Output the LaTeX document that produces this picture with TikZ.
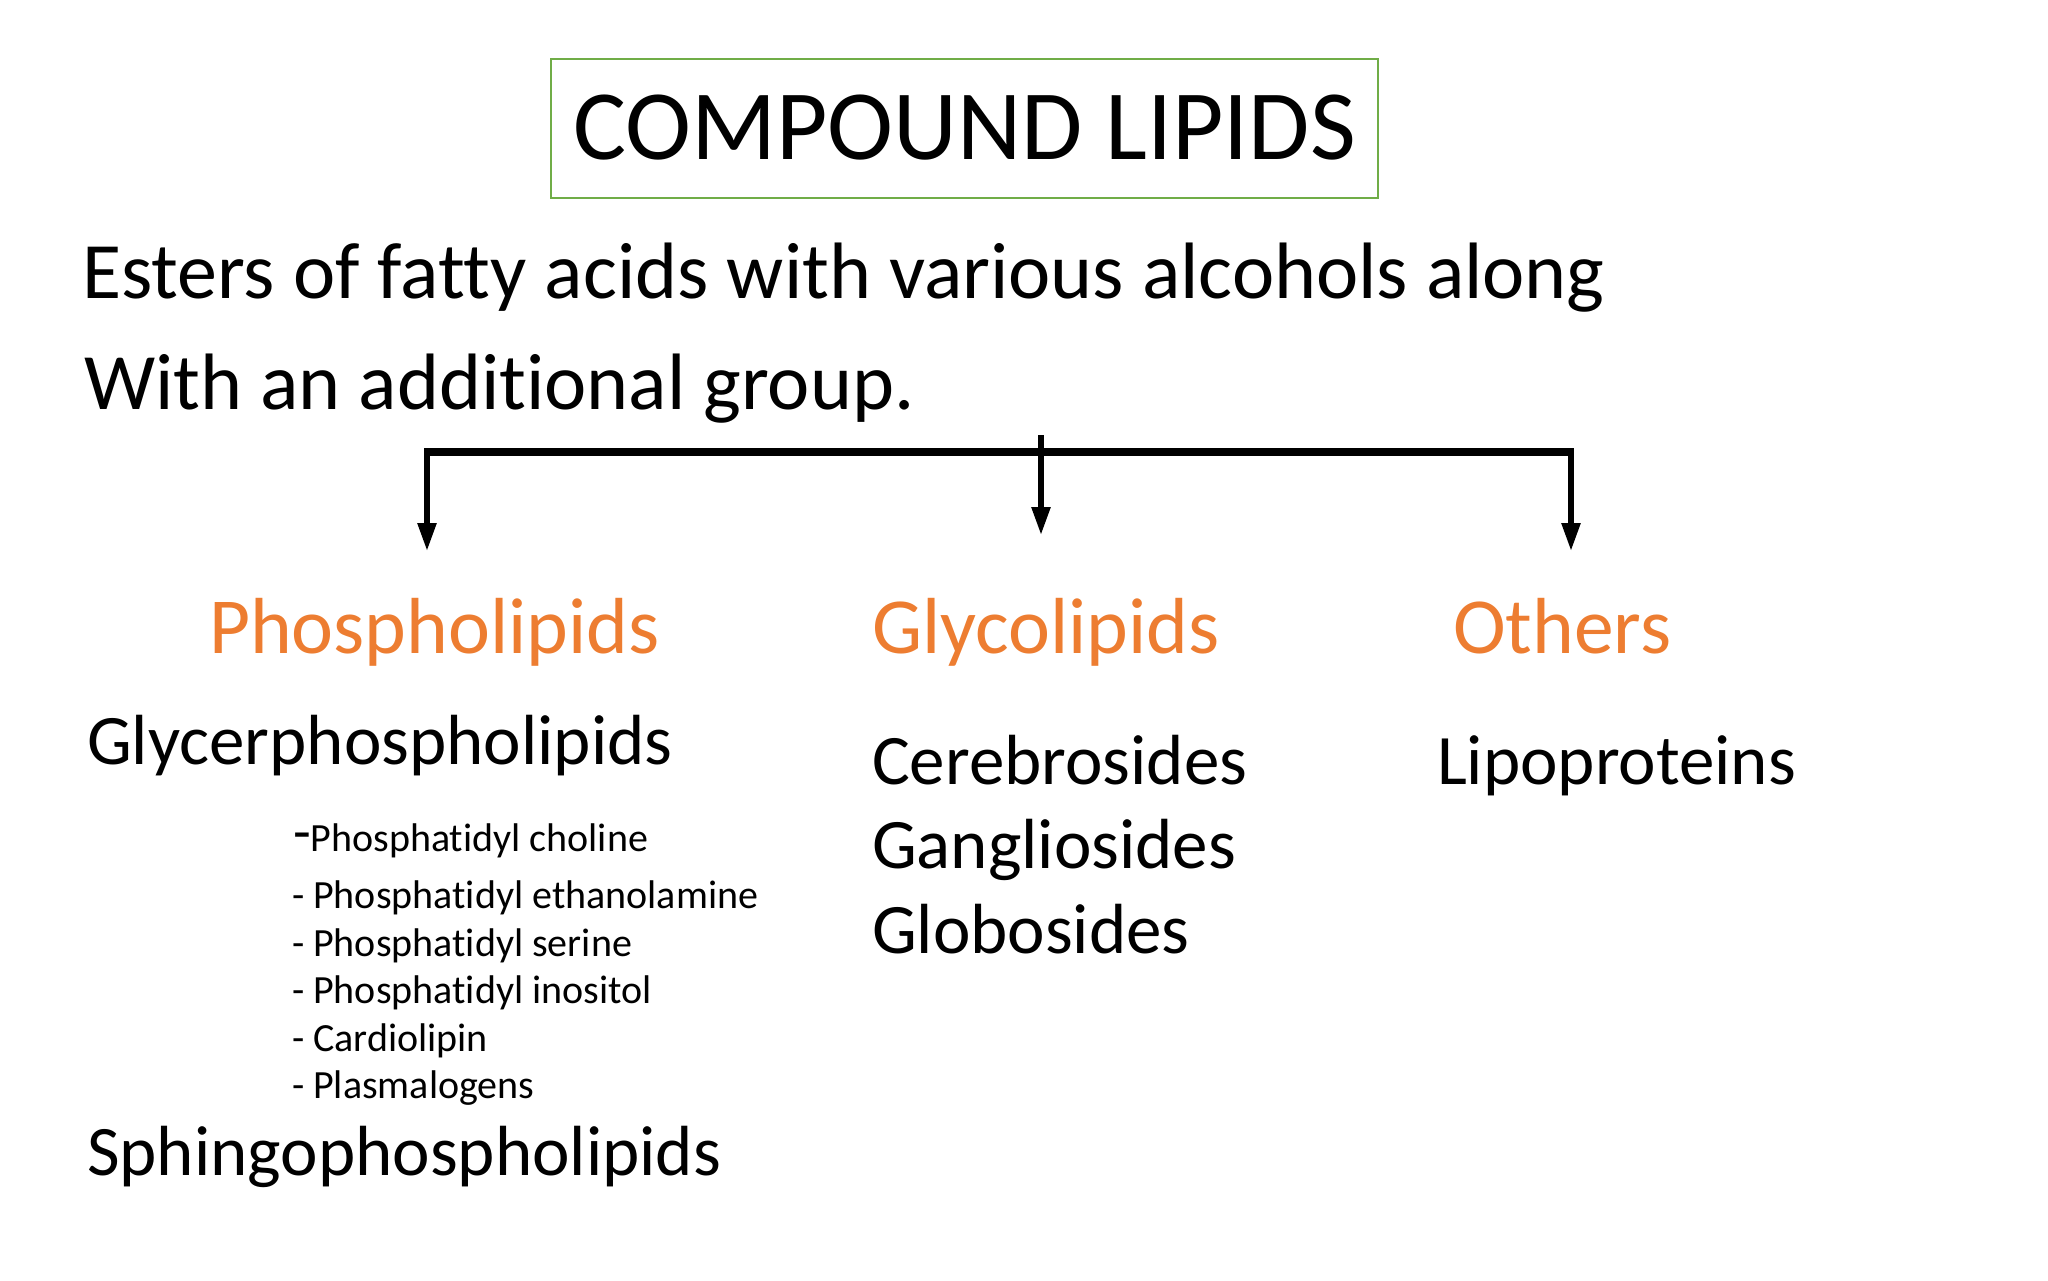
\documentclass[tikz,border=0pt]{standalone}
\usepackage{fontspec}
\setmainfont[RawFeature={-liga;-clig;-calt;-rlig;-dlig}]{Carlito}
\usetikzlibrary{arrows.meta, positioning}
\definecolor{boxgreen}{RGB}{112,173,71}
\definecolor{headorange}{RGB}{237,125,49}

\begin{document}
\begin{tikzpicture}[
        x=1pt, y=-1pt,
        >={Triangle[length=28pt, width=18pt]},
        every node/.style={inner sep=0pt, outer sep=0pt, anchor=base west},
        titlebox/.style={draw=boxgreen, line width=2pt, anchor=center, minimum width=827pt, minimum height=139pt, font=\fontsize{99.5}{104}\selectfont},
        big/.style={font=\fontsize{80}{88}\selectfont},
        head/.style={font=\fontsize{79.5}{86}\selectfont, text=headorange},
        item/.style={font=\fontsize{71}{78}\selectfont},
        sub/.style={font=\fontsize{40}{46}\selectfont},
        bar/.style={line width=8pt},
        link/.style={line width=5.5pt, ->}
    ]
        \useasboundingbox (0,0) rectangle (2048,1280);

        % 标题与说明
        \node[titlebox] (title) at (964.5,128) {COMPOUND LIPIDS};
        \path
            (82,298)  node[big] (desc1) {Esters of fatty acids with various alcohols along}
            (84,409)  node[big] (desc2) {With an additional group.};

        % 分叉箭头
        \coordinate (stem) at (1041,435);
        \coordinate (barL) at (427,452);
        \coordinate (barR) at (1574,452);
        \coordinate (tipL) at (427,551);
        \coordinate (tipM) at (1041,535);
        \coordinate (tipR) at (1571,551);
        \draw[bar] ([xshift=-2.75pt]barL) -- (barR);
        \draw[link] (barL) -- (tipL);
        \draw[link] (stem) -- (tipM);
        \draw[link] ([xshift=-3pt]barR) -- (tipR);

        % 三类
        \path
            (209,653)  node[head] (phos)  {Phospholipids}
            (872,653)  node[head] (glyco) {Glycolipids}
            (1453,653) node[head] (other) {Others};

        % 各类成员
        \path
            (87,764)   node[item] (glycer) {Glycerphospholipids}
            (87,1175)  node[item] (sphingo) {Sphingophospholipids}
            (872,784)  node[item] (cere)   {Cerebrosides}
            (872,868)  node[item] (gang)   {Gangliosides}
            (872,953)  node[item] (globo)  {Globosides}
            (1437,784) node[item] (lipo)   {Lipoproteins};

        % 甘油磷脂
        \path
            (293,851)  node[sub] (pc)   {{\fontsize{58}{58}\selectfont -}Phosphatidyl choline}
            (292,908)  node[sub] (pe)   {- Phosphatidyl ethanolamine}
            (292,956)  node[sub] (ps)   {- Phosphatidyl serine}
            (292,1003) node[sub] (pi)   {- Phosphatidyl inositol}
            (292,1051) node[sub] (card) {- Cardiolipin}
            (292,1098) node[sub] (plas) {- Plasmalogens};
    \end{tikzpicture}
\end{document}
